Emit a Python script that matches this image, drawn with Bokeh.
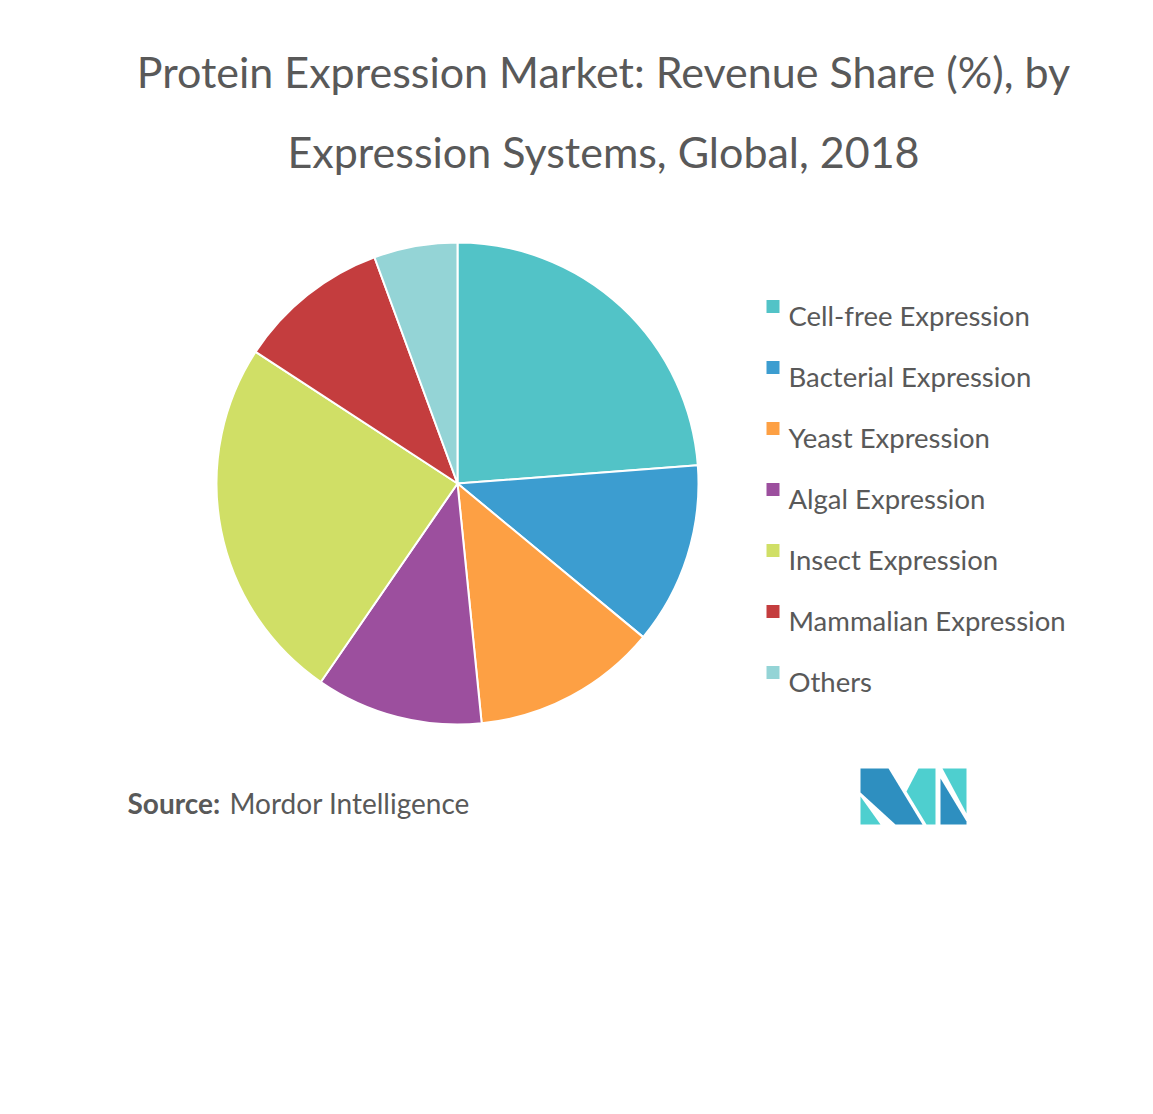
import numpy as np
from bokeh.plotting import figure
from bokeh.models import Range1d, ColumnDataSource
from bokeh.core.properties import value
from bokeh.embed import file_html
from bokeh.resources import INLINE

# ---- data ----
categories = ["Cell-free Expression", "Bacterial Expression", "Yeast Expression",
              "Algal Expression", "Insect Expression", "Mammalian Expression", "Others"]
shares = [23.8, 12.2, 12.4, 11.2, 24.6, 10.2, 5.6]
colors = ["#52C3C7", "#3C9DD0", "#FDA044", "#9C4F9E", "#D0DF66", "#C43D3E", "#94D4D6"]
title_lines = ["Protein Expression Market: Revenue Share (%), by",
               "Expression Systems, Global, 2018"]
source_label = "Source:"
source_text = "Mordor Intelligence"

W, H = 1137, 1098
FONT = "Lato"
GREY = "#595959"

def Y(img_y):
    return 1114 - img_y

p = figure(width=W, height=H, output_backend="svg", toolbar_location=None,
           x_range=Range1d(0, W), y_range=Range1d(1114 - H, 1114),
           min_border=0, tools="")
p.axis.visible = False
p.grid.visible = False
p.outline_line_color = None
p.background_fill_color = "white"
p.border_fill_color = "white"

# ---- pie ----
vals = np.array(shares, dtype=float)
frac = vals / vals.sum()
cum = np.concatenate([[0], np.cumsum(frac)])
start = np.pi / 2 - 2 * np.pi * cum[:-1]
end = np.pi / 2 - 2 * np.pi * cum[1:]
src = ColumnDataSource(dict(start=start, end=end, color=colors, cat=categories))
p.wedge(x=457, y=Y(483), radius=241, start_angle="start", end_angle="end",
        direction="clock", fill_color="color", line_color="white", line_width=2,
        source=src)

# ---- title ----
p.text(x=[603, 603], y=[Y(71), Y(151)], text=title_lines,
       text_font=value(FONT), text_font_size="43px", text_color=GREY,
       text_align="center", text_baseline="middle")

# ---- legend ----
n = len(categories)
ly = [Y(306 + 61 * i) for i in range(n)]
ty = [Y(315 + 61 * i) for i in range(n)]
p.rect(x=[772.5] * n, y=ly, width=13, height=13, fill_color=colors, line_color=None)
p.text(x=[788] * n, y=ty, text=categories, text_font=value(FONT),
       text_font_size="27.5px", text_color=GREY, text_align="left",
       text_baseline="middle")

# ---- source ----
p.text(x=[127], y=[Y(802)], text=[source_label], text_font=value(FONT),
       text_font_size="28px", text_font_style="bold", text_color=GREY,
       text_align="left", text_baseline="middle")
p.text(x=[229], y=[Y(802)], text=[source_text], text_font=value(FONT),
       text_font_size="28px", text_color=GREY, text_align="left",
       text_baseline="middle")

# ---- logo ----
dark = "#2E8FC0"
teal = "#4ECFCF"
logo = [
    (dark, [(860, 768), (888, 768), (922, 824), (895, 824), (860, 792)]),
    (teal, [(860, 796), (880, 824), (860, 824)]),
    (teal, [(918, 768), (935, 768), (935, 824), (926, 824), (906, 791)]),
    (dark, [(940, 778), (966, 821), (966, 824), (940, 824)]),
    (teal, [(942, 768), (966, 768), (966, 813)]),
]
p.patches(xs=[[pt[0] for pt in poly] for _, poly in logo],
          ys=[[Y(pt[1]) for pt in poly] for _, poly in logo],
          fill_color=[c for c, _ in logo], line_color=None)

open("out.html", "w").write(file_html(p, INLINE))
